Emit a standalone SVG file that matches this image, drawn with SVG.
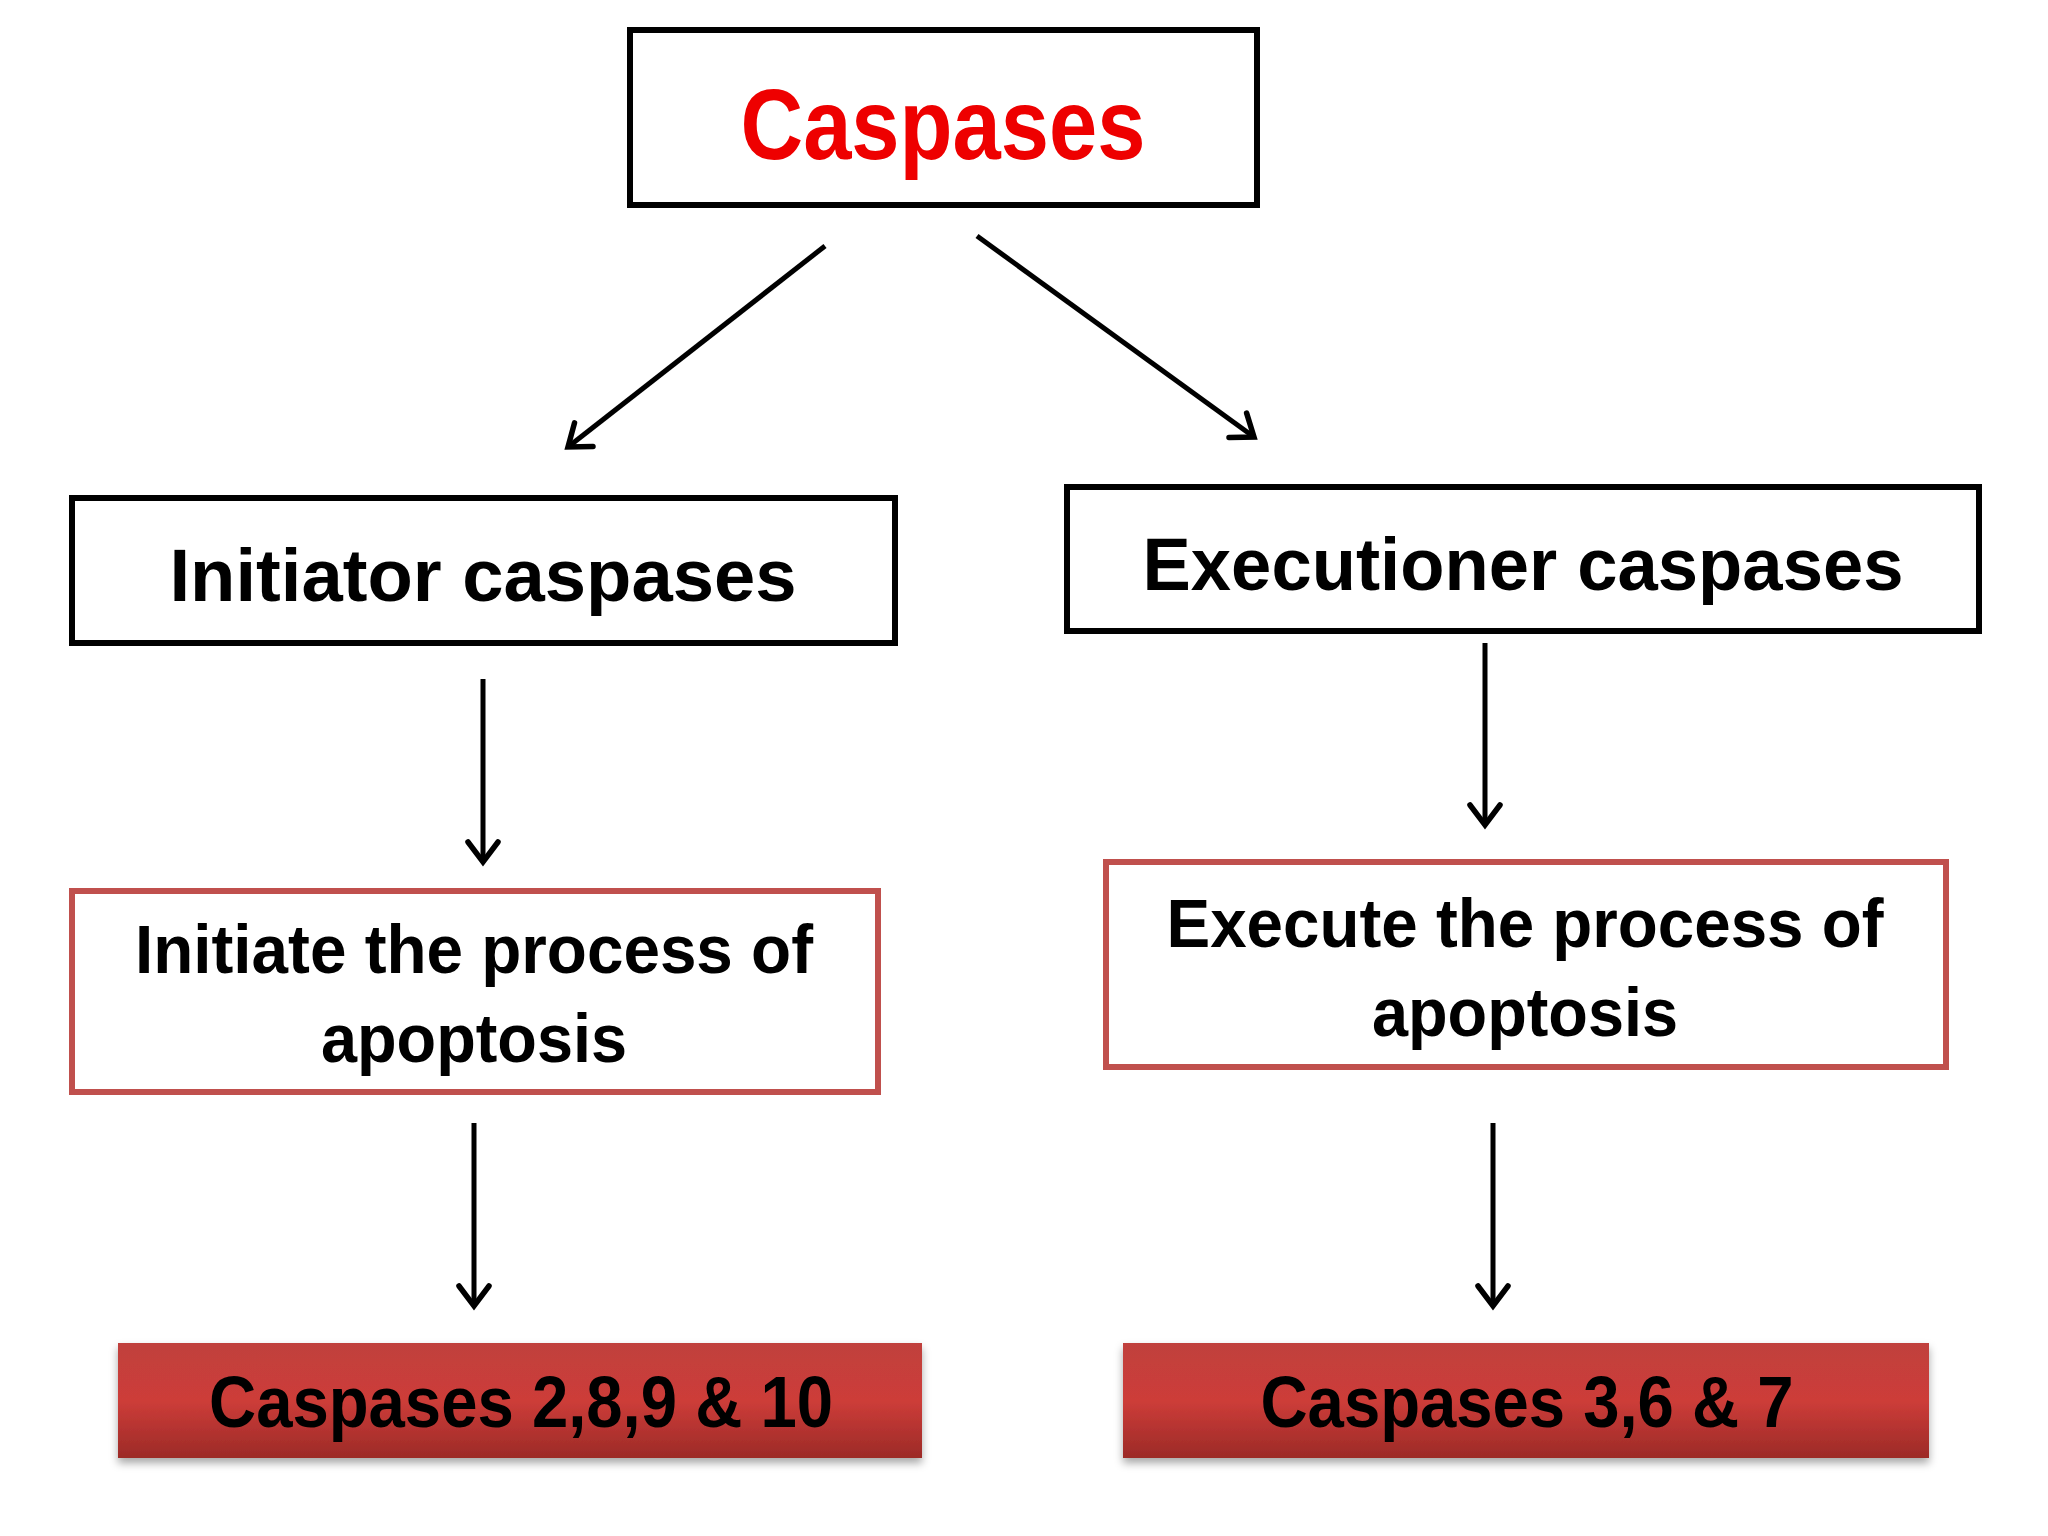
<svg xmlns="http://www.w3.org/2000/svg" width="2048" height="1536" viewBox="0 0 2048 1536">
<defs>
<marker id="ah" viewBox="-30 -30 40 60" refX="0" refY="0" markerWidth="40" markerHeight="60" markerUnits="userSpaceOnUse" orient="auto" overflow="visible">
<path d="M-20,-15 L0,0 L-20,15" fill="none" stroke="#000" stroke-width="5.5" stroke-linecap="round" stroke-linejoin="miter"/>
</marker>
<linearGradient id="rg" x1="0" y1="0" x2="0" y2="1">
<stop offset="0" stop-color="#C0403C"/><stop offset="0.5" stop-color="#CD3D39"/><stop offset="1" stop-color="#9C2A27"/>
</linearGradient>
<filter id="sh" x="-5%" y="-5%" width="110%" height="130%"><feDropShadow dx="0" dy="5" stdDeviation="4" flood-color="#000" flood-opacity="0.35"/></filter>
</defs>
<style>
.b{fill:#fff;stroke:#000;stroke-width:6}
.r{fill:#fff;stroke:#C0504D;stroke-width:6}
.t{font-family:"Liberation Sans",Arial,sans-serif;font-weight:bold;text-anchor:middle;fill:#000}
.c{stroke:#000;stroke-width:5;fill:none;marker-end:url(#ah)}
</style>
<rect width="2048" height="1536" fill="#fff"/>
<g id="caspases"><rect class="b" x="630" y="30" width="627" height="175"/>
<text class="t" x="943" y="159" font-size="100" style="fill:#EE0000" textLength="405" lengthAdjust="spacingAndGlyphs">Caspases</text></g>
<g id="initiator"><rect class="b" x="72" y="498" width="823" height="145"/>
<text class="t" x="483" y="601" font-size="74" textLength="627" lengthAdjust="spacingAndGlyphs">Initiator caspases</text></g>
<g id="executioner"><rect class="b" x="1067" y="487" width="912" height="144"/>
<text class="t" x="1523" y="590" font-size="74" textLength="761" lengthAdjust="spacingAndGlyphs">Executioner caspases</text></g>
<g id="initiate"><rect class="r" x="72" y="891" width="806" height="201"/>
<text class="t" x="474" y="973" font-size="68" textLength="678" lengthAdjust="spacingAndGlyphs">Initiate the process of</text>
<text class="t" x="474" y="1062" font-size="68" textLength="306" lengthAdjust="spacingAndGlyphs">apoptosis</text></g>
<g id="execute"><rect class="r" x="1106" y="862" width="840" height="205"/>
<text class="t" x="1525" y="947" font-size="68" textLength="717" lengthAdjust="spacingAndGlyphs">Execute the process of</text>
<text class="t" x="1525" y="1036" font-size="68" textLength="306" lengthAdjust="spacingAndGlyphs">apoptosis</text></g>
<g id="init-list"><rect x="118" y="1343" width="804" height="115" fill="url(#rg)" filter="url(#sh)"/>
<text class="t" x="521" y="1427" font-size="72" textLength="624" lengthAdjust="spacingAndGlyphs">Caspases 2,8,9 &amp; 10</text></g>
<g id="exec-list"><rect x="1123" y="1343" width="806" height="115" fill="url(#rg)" filter="url(#sh)"/>
<text class="t" x="1527" y="1427" font-size="72" textLength="533" lengthAdjust="spacingAndGlyphs">Caspases 3,6 &amp; 7</text></g>
<g id="connectors">
<line class="c" x1="825" y1="246" x2="568" y2="447"/>
<line class="c" x1="977" y1="236" x2="1254" y2="437"/>
<line class="c" x1="483" y1="679" x2="483" y2="862"/>
<line class="c" x1="1485" y1="643" x2="1485" y2="825"/>
<line class="c" x1="474" y1="1123" x2="474" y2="1306"/>
<line class="c" x1="1493" y1="1123" x2="1493" y2="1306"/>
</g>
</svg>
